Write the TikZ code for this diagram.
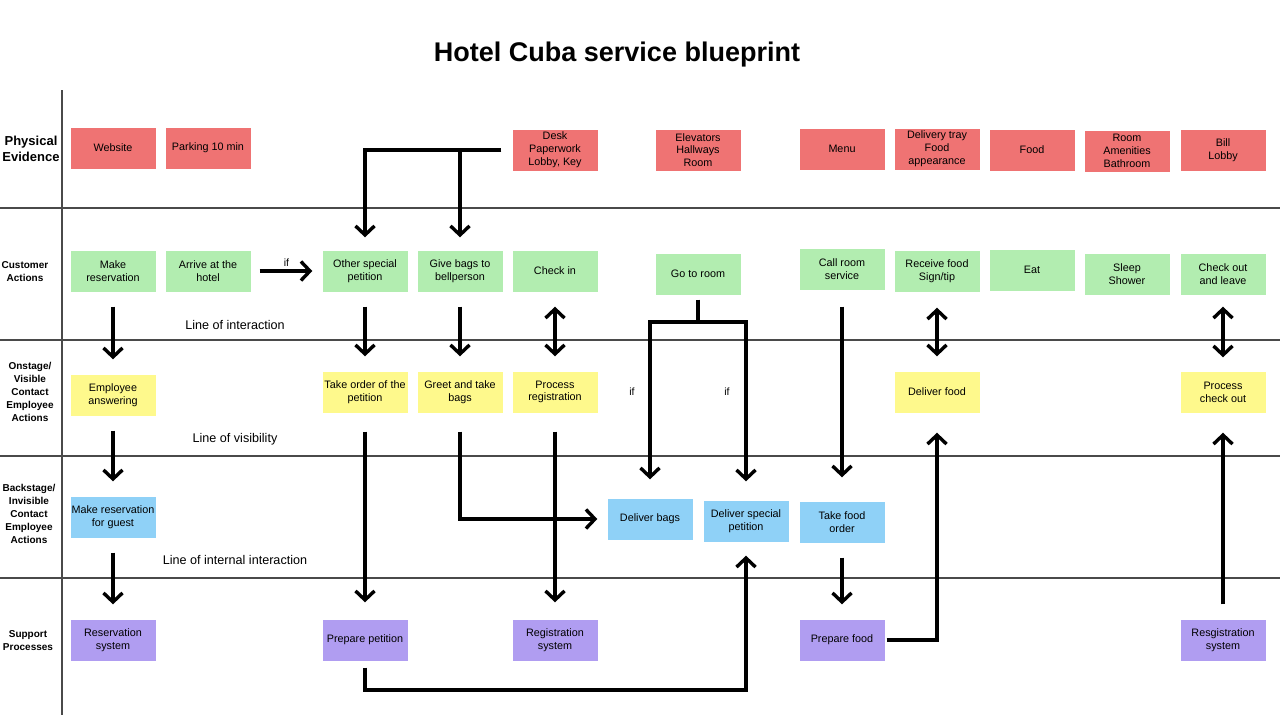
\documentclass[tikz,border=0pt]{standalone}
\usepackage{fontspec}
\setmainfont{Liberation Sans}
\usetikzlibrary{arrows.meta}

\definecolor{evidence}{HTML}{EF7373}
\definecolor{customer}{HTML}{B2EDB0}
\definecolor{onstage}{HTML}{FEF98C}
\definecolor{backstage}{HTML}{8FD1F7}
\definecolor{support}{HTML}{B09DF1}
\definecolor{rulegray}{HTML}{4A4A4A}

\tikzset{
  card/.style={minimum width=85pt, minimum height=41pt, inner sep=1pt,
    align=center, font=\fontsize{10.8}{12.8}\selectfont},
  evcard/.style={card, fill=evidence},
  cucard/.style={card, fill=customer},
  oncard/.style={card, fill=onstage},
  bkcard/.style={card, fill=backstage},
  spcard/.style={card, fill=support},
  rowlabel/.style={align=center, inner sep=0pt, font=\fontsize{10}{12.9}\bfseries},
  lanetext/.style={inner sep=0pt, font=\fontsize{12.6}{15}\selectfont},
  iftext/.style={inner sep=1pt, font=\fontsize{10.5}{12}\selectfont},
  barb/.tip={Straight Barb[length=9pt, width=19pt, line width=3.4pt]},
  link/.style={line width=3.4pt},
  flow/.style={link, shorten <=15pt, shorten >=15pt, -barb},
  twoway/.style={flow, barb-barb}
}

\begin{document}
\begin{tikzpicture}[x=1pt, y=-1pt]
\useasboundingbox[fill=white] (0,0) rectangle (1280,717);

% Title
\node[font=\fontsize{27}{32}\bfseries] (title) at (617,55) {Hotel Cuba service blueprint};

% Lanes
\draw[rulegray, line width=1.2pt] (62,90) -- (62,715);
\foreach \ly in {208,340,456,578}
  \draw[rulegray, line width=1.2pt] (0,\ly) -- (1280,\ly);

% Row labels
\node[rowlabel, font=\fontsize{13}{16}\bfseries] (rowev) at (31,149) {Physical\\Evidence};
\node[rowlabel] (rowcu) at (25,272) {Customer\\Actions};
\node[rowlabel] (rowon) at (30,392) {Onstage/\\Visible\\Contact\\Employee\\Actions};
\node[rowlabel] (rowbk) at (29,514) {Backstage/\\Invisible\\Contact\\Employee\\Actions};
\node[rowlabel] (rowsp) at (28,641) {Support\\Processes};

% Lines between the lanes
\node[lanetext] (interaction) at (235,325) {Line of interaction};
\node[lanetext] (visibility) at (235,439) {Line of visibility};
\node[lanetext] (internal) at (235,560) {Line of internal interaction};

% Physical evidence
\node[evcard] (website) at (113,148) {Website};
\node[evcard] (parking) at (208,148) {Parking 10 min};
\node[evcard] (desk) at (555,150) {Desk\\Paperwork\\Lobby, Key};
\node[evcard] (elevators) at (698,150) {Elevators\\Hallways\\Room};
\node[evcard] (menu) at (842,149) {Menu};
\node[evcard] (tray) at (937,149) {Delivery tray\\Food\\appearance};
\node[evcard] (foodev) at (1032,150) {Food};
\node[evcard] (amenities) at (1127,151) {Room\\Amenities\\Bathroom};
\node[evcard] (bill) at (1223,150) {Bill\\Lobby};

% Customer actions
\node[cucard] (makeres) at (113,271) {Make\\reservation};
\node[cucard] (arrive) at (208,271) {Arrive at the\\hotel};
\node[cucard] (other) at (365,271) {Other special\\petition};
\node[cucard] (givebags) at (460,271) {Give bags to\\bellperson};
\node[cucard] (checkin) at (555,271) {Check in};
\node[cucard] (goroom) at (698,274) {Go to room};
\node[cucard] (callroom) at (842,269) {Call room\\service};
\node[cucard] (receive) at (937,271) {Receive food\\Sign/tip};
\node[cucard] (eat) at (1032,270) {Eat};
\node[cucard] (sleep) at (1127,274) {Sleep\\Shower};
\node[cucard] (checkout) at (1223,274) {Check out\\and leave};

% Onstage actions
\node[oncard] (answering) at (113,395) {Employee\\answering};
\node[oncard] (takeorder) at (365,392) {Take order of the\\petition};
\node[oncard] (greet) at (460,392) {Greet and take\\bags};
\node[oncard] (procreg) at (555,392) {Process\\registration};
\node[oncard] (delfood) at (937,392) {Deliver food};
\node[oncard] (proccheck) at (1223,392) {Process\\check out};

% Backstage actions
\node[bkcard] (resguest) at (113,517) {Make reservation\\for guest};
\node[bkcard] (delbags) at (650,519) {Deliver bags};
\node[bkcard] (delspecial) at (746,521) {Deliver special\\petition};
\node[bkcard] (takefood) at (842,522) {Take food\\order};

% Support processes
\node[spcard] (ressys) at (113,640) {Reservation\\system};
\node[spcard] (preppet) at (365,640) {Prepare petition};
\node[spcard] (regsys) at (555,640) {Registration\\system};
\node[spcard] (prepfood) at (842,640) {Prepare food};
\node[spcard] (resgsys) at (1223,640) {Resgistration\\system};

% Reservation column
\draw[flow] (makeres) -- (answering);
\draw[flow] (answering) -- (resguest);
\draw[flow] (resguest) -- (ressys);

% Arrival and desk
\draw[flow, shorten <=9pt, shorten >=10pt] (arrive) -- node[iftext, above=2pt] (ifarrive) {if} (other);
\draw[flow, shorten <=11pt, shorten >=13pt] (desk.west) -| (other.north);
\draw[flow, shorten <=0pt, shorten >=13pt] (desk.west -| givebags.north) -- (givebags.north);
\draw[flow] (other) -- (takeorder);
\draw[flow] (givebags) -- (greet);
\draw[twoway] (checkin) -- (procreg);
\draw[flow, shorten <=19pt, shorten >=17pt] (takeorder) -- (preppet);
\draw[flow, shorten <=19pt, shorten >=10pt] (greet.south) |- (delbags.west);
\draw[flow, shorten <=19pt, shorten >=17pt] (procreg) -- (regsys);
\coordinate (bottomrun) at (365,690);
\draw[flow, shorten <=7pt, shorten >=14pt] (preppet.south) -- (bottomrun) -| (delspecial.south);

% Go to room
\coordinate (split) at (698,322);
\draw[link, shorten <=5pt] (goroom.south) -- (split);
\draw[flow, shorten <=0pt, shorten >=19pt] (split) -| (delbags.north);
\draw[flow, shorten <=0pt, shorten >=19pt] (split) -| (delspecial.north);
\node[iftext] (ifbags) at (632,392) {if};
\node[iftext] (ifspecial) at (727,392) {if};

% Room service
\draw[flow, shorten <=17pt, shorten >=24pt] (callroom) -- (takefood);
\draw[flow] (takefood) -- (prepfood);
\draw[flow, shorten <=2pt, shorten >=20pt] (prepfood.east) -| (delfood.south);
\draw[twoway, shorten <=16pt] (receive) -- (delfood);

% Check out
\draw[twoway, shorten <=12pt, shorten >=14pt] (checkout) -- (proccheck);
\draw[flow, shorten >=20pt] (resgsys) -- (proccheck);
\end{tikzpicture}
\end{document}
